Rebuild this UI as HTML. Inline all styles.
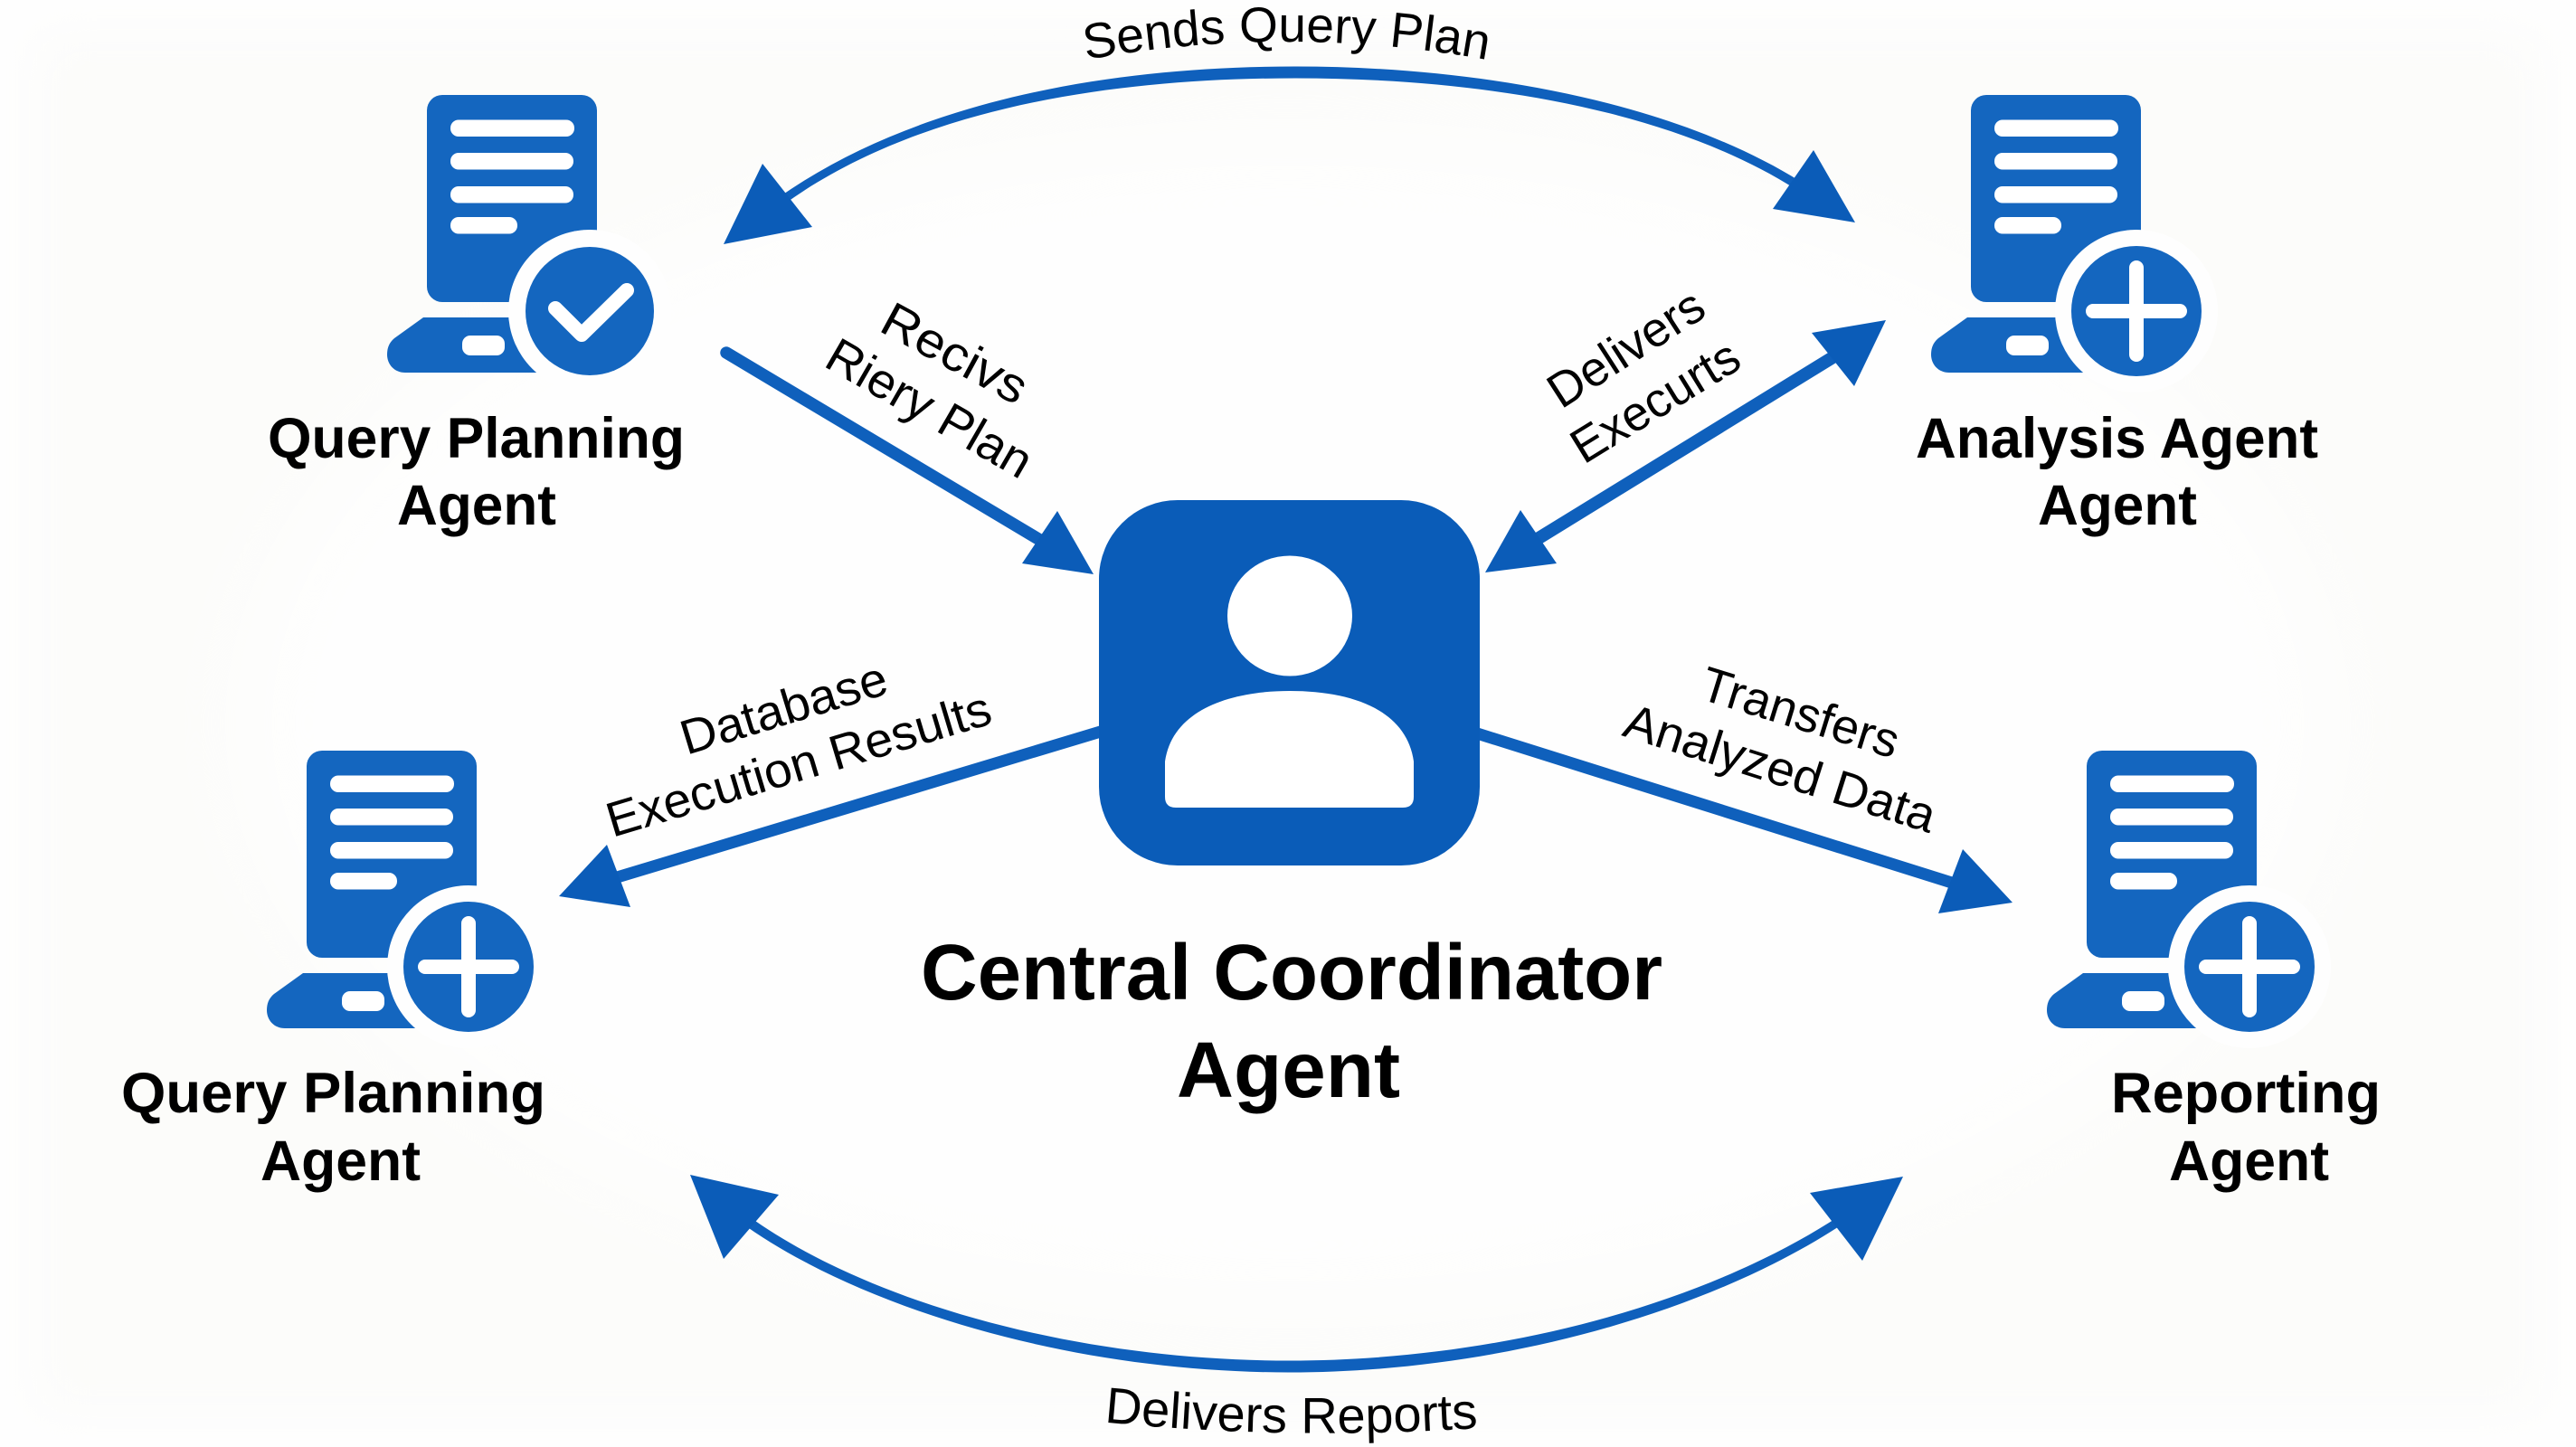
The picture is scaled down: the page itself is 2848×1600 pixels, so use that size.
<!DOCTYPE html>
<html>
<head>
<meta charset="utf-8">
<title>Central Coordinator Agent Diagram</title>
<style>
html,body{margin:0;padding:0;background:#fff;width:2848px;height:1600px;overflow:hidden}
svg{display:block}
text{font-family:"Liberation Sans",Arial,sans-serif;fill:#000}
.b{font-weight:700;font-size:63px}
.t{font-size:54px}
</style>
</head>
<body>
<svg xmlns="http://www.w3.org/2000/svg" width="2848" height="1600" viewBox="0 0 2848 1600">
<defs>
<filter id="blur" x="-10%" y="-10%" width="120%" height="120%"><feGaussianBlur stdDeviation="28"/></filter>
<filter id="blur2" x="-30%" y="-30%" width="160%" height="160%"><feGaussianBlur stdDeviation="60"/></filter>
<g id="doc">
<rect x="472" y="105" width="188" height="229" rx="17" fill="#1466bf"/>
<rect x="498" y="132.5" width="137" height="18.5" rx="9" fill="#fff"/>
<rect x="498" y="169" width="136" height="18.5" rx="9" fill="#fff"/>
<rect x="498" y="206" width="136" height="18.5" rx="9" fill="#fff"/>
<rect x="498" y="240" width="74" height="18.5" rx="9" fill="#fff"/>
<path d="M468 351H620V412H448C436 412 428 403 428 392C428 385 430 379 436 374Z" fill="#1466bf"/>
<rect x="511" y="371" width="47" height="22" rx="9" fill="#fff"/>
</g>
</defs>

<rect width="2848" height="1600" fill="#fefefe"/>
<rect x="40" y="40" width="2768" height="1520" fill="#fcfcfa" filter="url(#blur)"/>
<ellipse cx="1424" cy="800" rx="1150" ry="640" fill="#fefefe" filter="url(#blur2)"/>

<!-- top arc -->
<path d="M860 219C1008 114 1220 73.5 1432 73.5C1640 73.5 1852 114 1991 201L1985 209C1848 122 1640 86.5 1432 86.5C1220 86.5 1012 122 868 225Z" fill="#0f60bc"/>
<polygon points="800,270 843,181 898,251" fill="#0b5cb8"/>
<polygon points="2051,246 2005,166 1960,231" fill="#0b5cb8"/>
<path id="topPath" d="M1180 70Q1420 22 1665 70" fill="none"/>
<text style="font-size:55px" text-anchor="middle"><textPath href="#topPath" startOffset="50%">Sends Query Plan</textPath></text>

<!-- bottom arc -->
<path d="M818 1351C946 1444 1180 1517.5 1425 1517.5C1670 1517.5 1904 1444 2044 1349L2036 1343C1896 1436 1670 1504.5 1425 1504.5C1180 1504.5 954 1436 828 1345Z" fill="#0f60bc"/>
<polygon points="763,1299 800,1392 861,1321" fill="#0b5cb8"/>
<polygon points="2104,1301 2059,1394 2001,1319" fill="#0b5cb8"/>
<path id="botPath" d="M1205 1571Q1425 1594 1650 1578" fill="none"/>
<text style="font-size:56px" text-anchor="middle"><textPath href="#botPath" startOffset="50%">Delivers Reports</textPath></text>

<!-- straight arrows -->
<line x1="803" y1="390" x2="1153" y2="599" stroke="#0f60bc" stroke-width="13.5" stroke-linecap="round"/>
<polygon points="1209,635 1169,565 1130,623" fill="#0b5cb8"/>

<line x1="1698" y1="597" x2="2033" y2="391" stroke="#0f60bc" stroke-width="14"/>
<polygon points="2085,354 2003,368 2050,427" fill="#0b5cb8"/>
<polygon points="1642,633 1681,564 1721,623" fill="#0b5cb8"/>

<line x1="679" y1="971" x2="1220" y2="808" stroke="#0f60bc" stroke-width="13"/>
<polygon points="618,991 671,934 697,1003" fill="#0b5cb8"/>

<line x1="1630" y1="810" x2="2164" y2="978" stroke="#0f60bc" stroke-width="13"/>
<polygon points="2225,998 2170,939 2143,1010" fill="#0b5cb8"/>

<!-- central box -->
<rect x="1215" y="553" width="421" height="404" rx="87" fill="#0a5cb8"/>
<ellipse cx="1426" cy="681" rx="69" ry="66.5" fill="#fff"/>
<path d="M1288 842C1296 785 1360 764 1426 764C1495 764 1555 785 1563 842V881Q1563 893 1551 893H1300Q1288 893 1288 881Z" fill="#fff"/>

<!-- icon: top left -->
<use href="#doc"/>
<circle cx="652" cy="344" r="90" fill="#fefefe"/>
<circle cx="652" cy="344" r="71" fill="#1466bf"/>
<polyline points="614,341 643,370 693,321" fill="none" stroke="#fff" stroke-width="16" stroke-linecap="round" stroke-linejoin="round"/>

<!-- icon: top right -->
<use href="#doc" x="1707"/>
<circle cx="2362" cy="344" r="90" fill="#fefefe"/>
<circle cx="2362" cy="344" r="72" fill="#1466bf"/>
<path d="M2314 344H2410M2362 296V392" stroke="#fff" stroke-width="16" stroke-linecap="round"/>

<!-- icon: bottom left -->
<use href="#doc" x="-133" y="725"/>
<circle cx="518" cy="1069" r="90" fill="#fefefe"/>
<circle cx="518" cy="1069" r="72" fill="#1466bf"/>
<path d="M470 1069H566M518 1021V1117" stroke="#fff" stroke-width="16" stroke-linecap="round"/>

<!-- icon: bottom right -->
<use href="#doc" x="1835" y="725"/>
<circle cx="2487" cy="1069" r="90" fill="#fefefe"/>
<circle cx="2487" cy="1069" r="72" fill="#1466bf"/>
<path d="M2439 1069H2535M2487 1021V1117" stroke="#fff" stroke-width="16" stroke-linecap="round"/>

<!-- bold labels -->
<text class="b" x="296" y="506" textLength="461" lengthAdjust="spacingAndGlyphs">Query Planning</text>
<text class="b" x="439" y="580" textLength="176" lengthAdjust="spacingAndGlyphs">Agent</text>
<text class="b" x="2118" y="506" textLength="445" lengthAdjust="spacingAndGlyphs">Analysis Agent</text>
<text class="b" x="2253" y="580" textLength="176" lengthAdjust="spacingAndGlyphs">Agent</text>
<text class="b" x="134" y="1230" textLength="469" lengthAdjust="spacingAndGlyphs">Query Planning</text>
<text class="b" x="288" y="1305" textLength="177" lengthAdjust="spacingAndGlyphs">Agent</text>
<text class="b" x="2334" y="1230" textLength="298" lengthAdjust="spacingAndGlyphs">Reporting</text>
<text class="b" x="2398" y="1305" textLength="177" lengthAdjust="spacingAndGlyphs">Agent</text>
<text class="b" style="font-size:87px" x="1018" y="1105" textLength="820" lengthAdjust="spacingAndGlyphs">Central Coordinator</text>
<text class="b" style="font-size:87px" x="1301" y="1213" textLength="247" lengthAdjust="spacingAndGlyphs">Agent</text>

<!-- rotated labels -->
<text class="t" transform="translate(970,365) rotate(28.5)" textLength="175" lengthAdjust="spacingAndGlyphs">Recivs</text>
<text class="t" transform="translate(909,404) rotate(30)" textLength="253" lengthAdjust="spacingAndGlyphs">Riery Plan</text>
<text class="t" transform="translate(1726,453) rotate(-32.8)" textLength="194" lengthAdjust="spacingAndGlyphs">Delivers</text>
<text class="t" transform="translate(1751,514) rotate(-31.6)" textLength="208" lengthAdjust="spacingAndGlyphs">Execurts</text>
<text class="t" transform="translate(759,835) rotate(-17)" textLength="236" lengthAdjust="spacingAndGlyphs">Database</text>
<text class="t" transform="translate(677,926) rotate(-16.7)" textLength="441" lengthAdjust="spacingAndGlyphs">Execution Results</text>
<text class="t" transform="translate(1877,772) rotate(17.2)" textLength="226" lengthAdjust="spacingAndGlyphs">Transfers</text>
<text class="t" transform="translate(1792,813) rotate(17.6)" textLength="358" lengthAdjust="spacingAndGlyphs">Analyzed Data</text>
</svg>
</body>
</html>
